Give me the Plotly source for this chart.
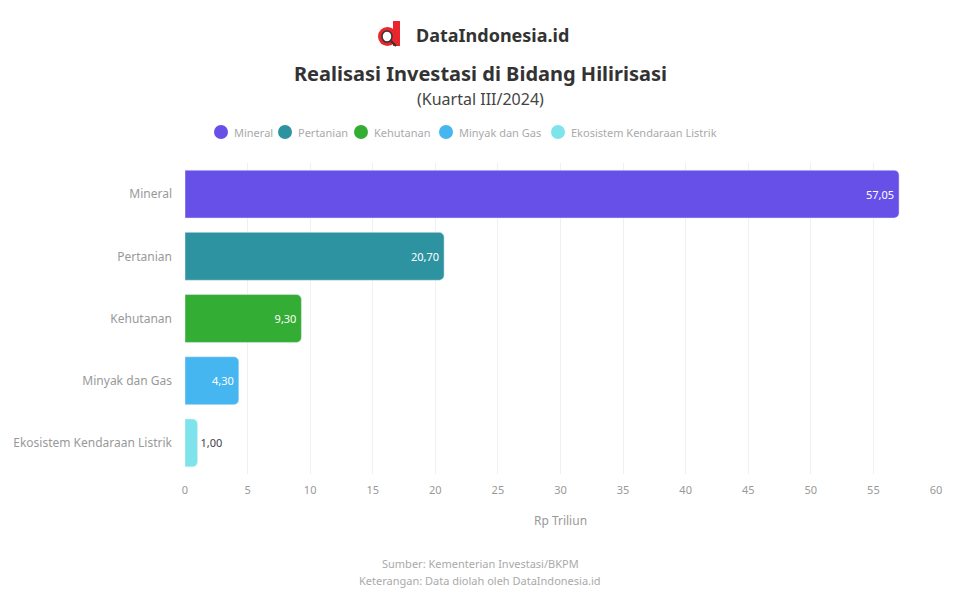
import plotly.graph_objects as go

categories = ["Mineral", "Pertanian", "Kehutanan", "Minyak dan Gas", "Ekosistem Kendaraan Listrik"]
values = [57.05, 20.70, 9.30, 4.30, 1.00]
colors = ["#6750e8", "#2e93a0", "#33ad33", "#45b6f0", "#7ee3ea"]
x_ticks = list(range(0, 65, 5))

FONT = "Noto Sans"
OFF = 8                       # page body margin of the html page
W, H = 960 - OFF, 600 - OFF   # figure size so it fits the window
L, R, T, B = 185 - OFF, 24, 163 - OFF, 126
pw, ph = W - L - R, H - T - B

def px(x):  # screen pixel -> paper x
    return (x - OFF - L) / pw

def py(y):  # screen pixel -> paper y
    return (H - B - (y - OFF)) / ph

fig = go.Figure()
for c, v, col in zip(categories, values, colors):
    label = f"{v:.2f}".replace(".", ",")
    inside = v > 3
    fig.add_trace(go.Bar(
        y=[c], x=[v], orientation="h", marker=dict(color=col, cornerradius=5),
        text=[label], textposition="inside" if inside else "outside",
        insidetextanchor="end",
        textfont=dict(color="#ffffff" if inside else "#444444", size=11, family=FONT),
        cliponaxis=False, showlegend=False, hoverinfo="x+y",
    ))

fig.update_layout(
    width=W, height=H,
    paper_bgcolor="#ffffff", plot_bgcolor="#ffffff",
    margin=dict(l=L, r=R, t=T, b=B, autoexpand=False),
    bargap=0.23,
    showlegend=False,
    font=dict(family=FONT),
    xaxis=dict(range=[0, 60], tickvals=x_ticks, showgrid=True, gridcolor="#f0f0f0", zeroline=False,
               tickfont=dict(size=11, color="#999999"), ticks="", showline=False,
               ticklabelstandoff=8, automargin=False,
               title=dict(text="Rp Triliun", font=dict(size=12, color="#999999"), standoff=20)),
    yaxis=dict(categoryorder="array", categoryarray=categories[::-1],
               tickfont=dict(size=12, color="#999999"), ticks="", showgrid=False,
               ticklabelstandoff=12, automargin=False),
)

def ann(text, x, y, size, color, anchor="center", **kw):
    fig.add_annotation(text=text, x=px(x), y=py(y), xref="paper", yref="paper", showarrow=False,
                       xanchor=anchor, yanchor="middle", font=dict(size=size, color=color, family=FONT), **kw)

# Header
ann("<b>DataIndonesia.id</b>", 414, 35, 18, "#333333", anchor="left")
ann("<b>Realisasi Investasi di Bidang Hilirisasi</b>", 480, 73, 20, "#333333")
ann("(Kuartal III/2024)", 480, 99, 16, "#444444")
ann("Sumber: Kementerian Investasi/BKPM", 480, 563, 11, "#aaaaaa")
ann("Keterangan: Data diolah oleh DataIndonesia.id", 480, 580, 11, "#aaaaaa")

# Legend (circle + label)
legend_x = [221, 285, 361, 446, 558]
for name, col, lx in zip(categories, colors, legend_x):
    fig.add_shape(type="circle", xref="paper", yref="paper", x0=px(lx - 7), x1=px(lx + 7),
                  y0=py(139), y1=py(125), fillcolor=col, line=dict(width=0))
    ann(name, lx + 11, 132, 11, "#aaaaaa", anchor="left")

# Logo: red "d" with magnifier
fig.add_shape(type="circle", xref="paper", yref="paper", x0=px(378), x1=px(397), y0=py(46), y1=py(27),
              fillcolor="#e8262b", line=dict(width=0))
fig.add_shape(type="rect", xref="paper", yref="paper", x0=px(393), x1=px(400), y0=py(46), y1=py(21),
              fillcolor="#e8262b", line=dict(width=0))
fig.add_shape(type="circle", xref="paper", yref="paper", x0=px(382), x1=px(392), y0=py(42), y1=py(31),
              fillcolor="#ffffff", line=dict(color="#333333", width=1.5))
fig.add_shape(type="line", xref="paper", yref="paper", x0=px(391), x1=px(396), y0=py(41), y1=py(46),
              line=dict(color="#333333", width=2))

fig.write_html("out.html")
